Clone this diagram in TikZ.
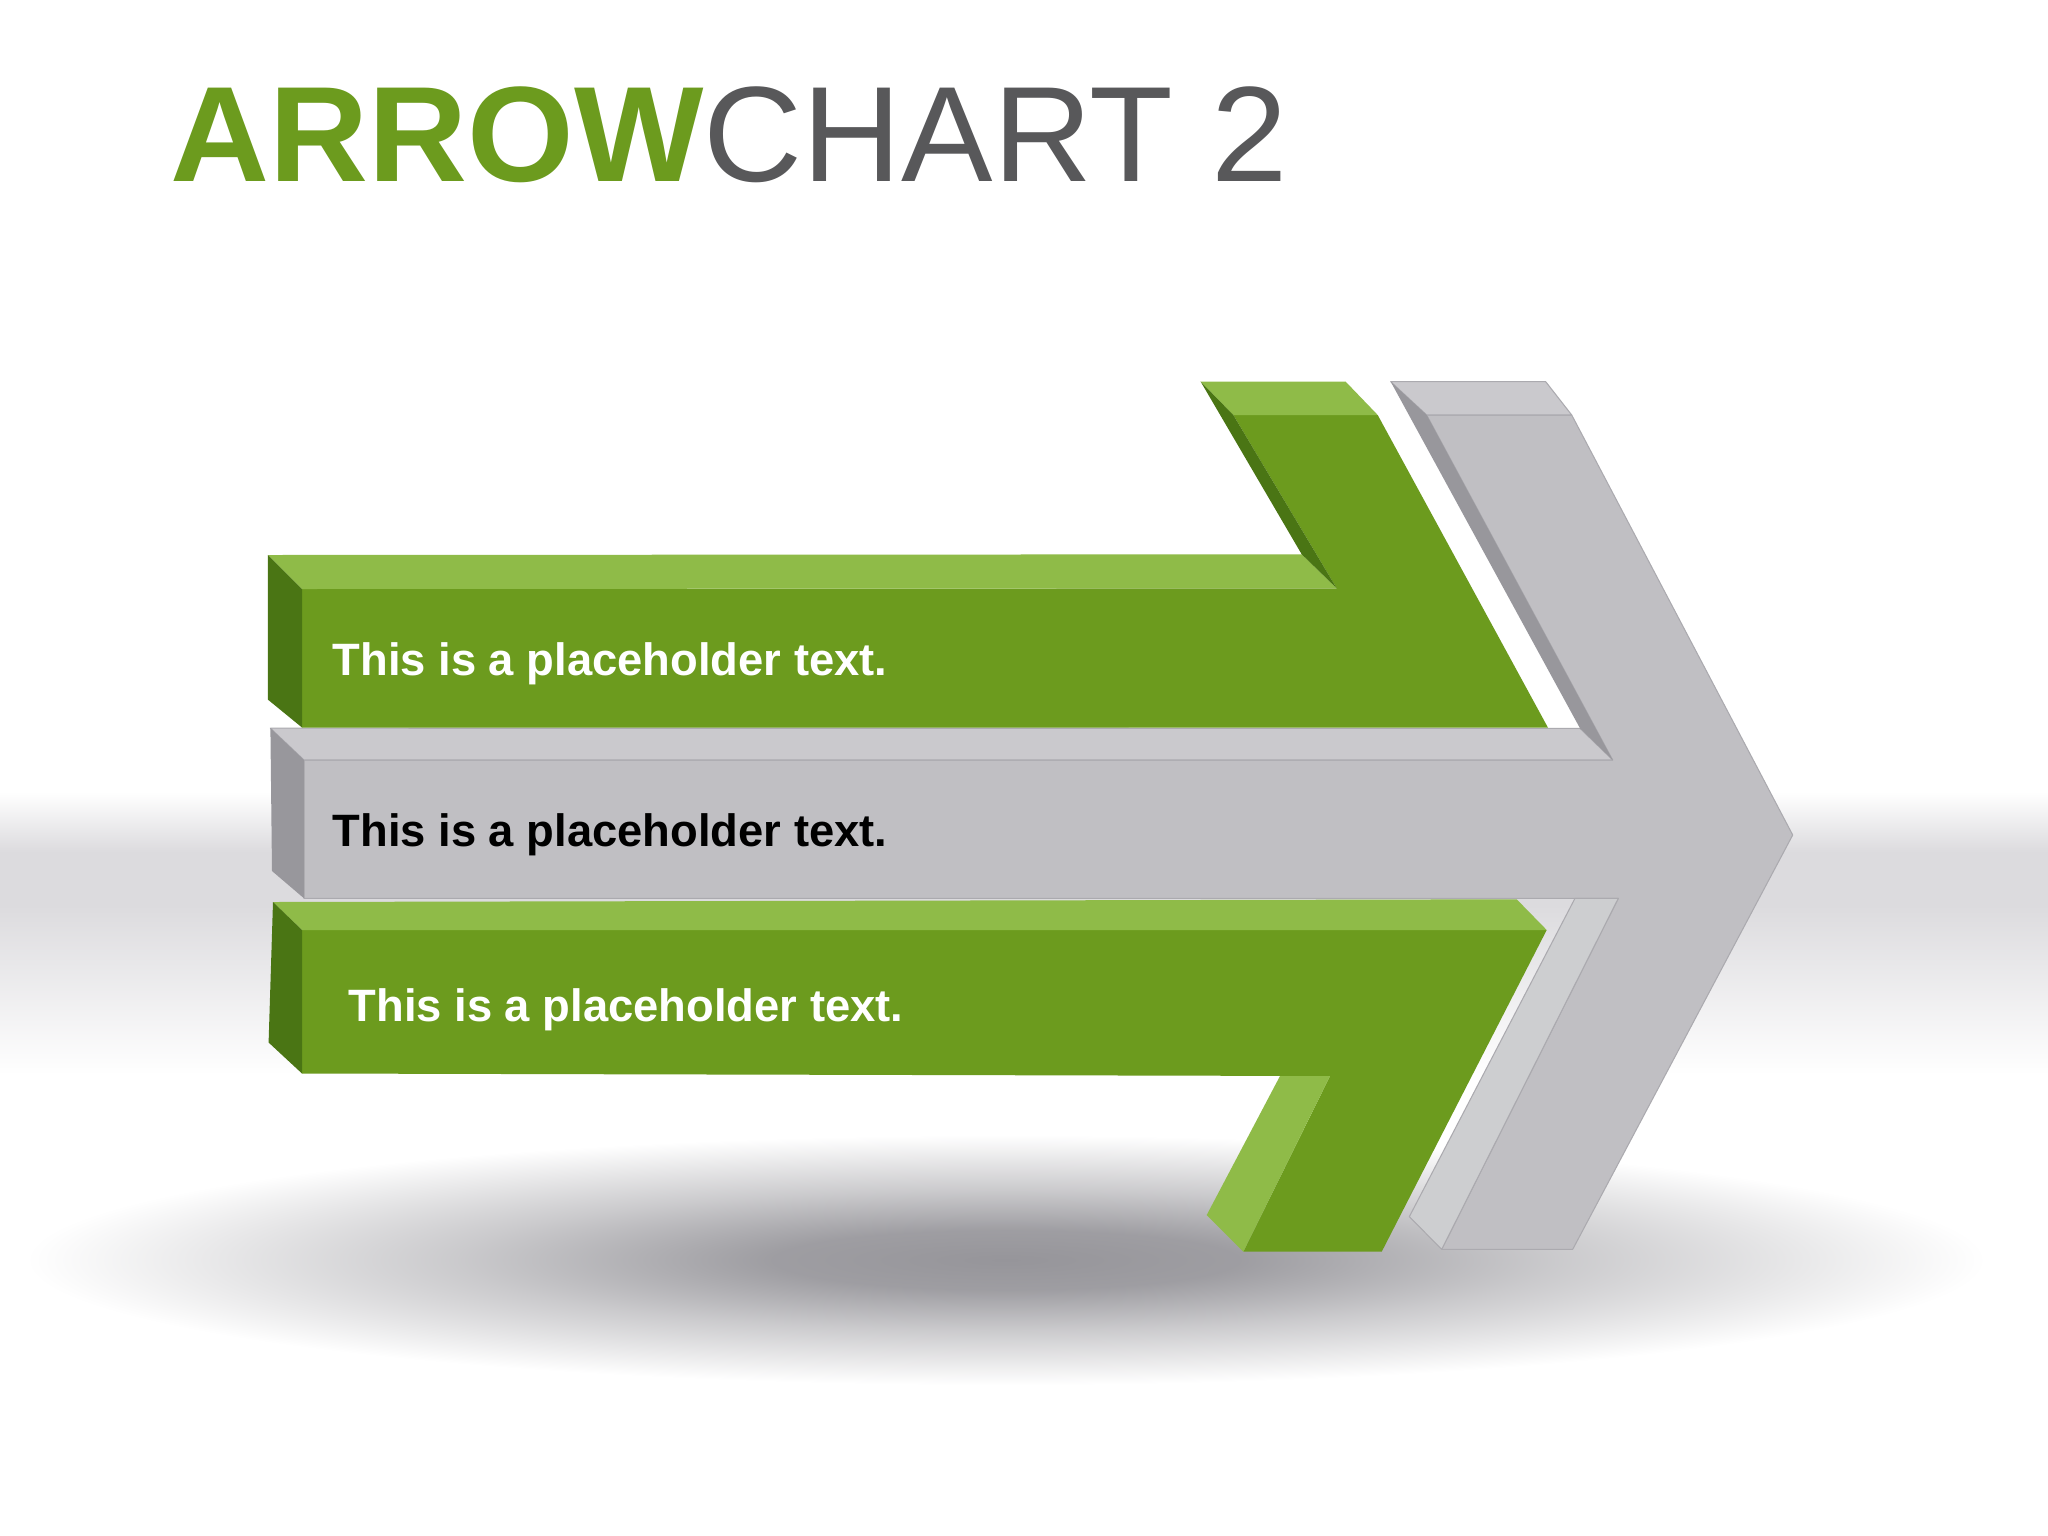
\documentclass[tikz,border=0pt]{standalone}
\usepackage{fontspec}
\setmainfont{Liberation Sans}
\definecolor{grn}{HTML}{6C9B1E}
\definecolor{grnlt}{HTML}{8FBB48}
\definecolor{grndk}{HTML}{4A7514}
\definecolor{gry}{HTML}{C0BFC3}
\definecolor{grylt}{HTML}{CAC9CD}
\definecolor{grydk}{HTML}{98979C}
\definecolor{gryside}{HTML}{CDCED0}
\definecolor{gryedge}{HTML}{ABAAAF}
\definecolor{band}{HTML}{DCDBDE}
\definecolor{shd}{HTML}{96959A}
\definecolor{ttlgray}{HTML}{58585A}
\pgfdeclareradialshading{floorshadow}{\pgfpoint{0bp}{0bp}}{color(0bp)=(shd); color(6bp)=(shd!92!white); color(14bp)=(shd!50!white); color(25bp)=(white); color(50bp)=(white)}
\begin{document}
\begin{tikzpicture}[x=0.01cm,y=-0.01cm,line join=round,
  face/.style={line width=0.3pt},
  lbl/.style={anchor=base west,inner sep=0pt,font=\fontsize{12.9pt}{15pt}\selectfont\bfseries}]
\fill[white] (0,0) rectangle (2048,1536);
\useasboundingbox (0,0) rectangle (2048,1536);
% floor band and shadow
\shade[top color=white,bottom color=band] (0,792) rectangle (2048,852);
\fill[band] (0,852) rectangle (2048,905);
\shade[top color=band,bottom color=white] (0,905) rectangle (2048,1075);
\shade[shading=floorshadow] (26,1135) rectangle (1986,1385);
% title
\node[anchor=base west,inner sep=0pt,font=\fontsize{38.6pt}{40pt}\selectfont,xscale=1.01] (title) at (170,181.5)
  {{\color{grn}\bfseries ARROW}{\color{ttlgray}CHART 2}};
% grey arrow
\filldraw[face,fill=gry,draw=gryedge] (304,760)--(1612.7,760)--(1426.7,415)--(1571.7,415)--(1792.7,835)
  --(1572.7,1249.3)--(1441.7,1249.3)--(1618.3,898.3)--(304,898.3)--cycle;
\filldraw[face,fill=grylt,draw=gryedge] (270.4,728.2)--(1580,728.3)--(1612.7,760)--(304,760)--cycle;
\filldraw[face,fill=grylt,draw=gryedge] (1390.7,381.7)--(1545.7,381.7)--(1571.7,415)--(1426.7,415)--cycle;
\fill[grydk] (1390.7,381.7)--(1426.7,415)--(1612.7,760)--(1580,728.3)--cycle;
\fill[grydk] (270.4,728.2)--(304,760)--(304,898.3)--(272,871)--cycle;
\filldraw[face,fill=gryside,draw=gryedge] (1575,898.3)--(1618.3,898.3)--(1441.7,1249.3)--(1409.3,1216.7)--cycle;
% top green
\fill[grn] (302,589)--(1336.7,588.3)--(1233.3,415)--(1377.7,415)--(1548,727.7)--(302,727.5)--cycle;
\fill[grnlt] (267.9,555)--(1301.7,554.3)--(1336.7,588.3)--(302,589)--cycle;
\fill[grnlt] (1200.7,381.7)--(1345.7,381.7)--(1377.7,415)--(1233.3,415)--cycle;
\fill[grndk] (1200.7,381.7)--(1233.3,415)--(1336.7,588.3)--(1301.7,554.3)--cycle;
\fill[grndk] (267.9,555)--(302,589)--(302,727.5)--(267.9,699.6)--cycle;
% bottom green
\fill[grn] (302,930)--(1546.7,930)--(1381.7,1251.7)--(1243.3,1251.7)--(1330,1076)--(302,1073.5)--cycle;
\fill[grnlt] (273,902)--(1516.7,899.3)--(1546.7,930)--(302,930)--cycle;
\fill[grnlt] (1280,1076)--(1330,1076)--(1243.3,1251.7)--(1206.7,1215)--cycle;
\fill[grndk] (273,902)--(302,930)--(302,1073.5)--(268.6,1042.5)--cycle;
% texts
\node[lbl,white] (t1) at (332,675) {This is a placeholder text.};
\node[lbl,black] (t2) at (332,846.5) {This is a placeholder text.};
\node[lbl,white] (t3) at (348,1021.5) {This is a placeholder text.};
\end{tikzpicture}
\end{document}
